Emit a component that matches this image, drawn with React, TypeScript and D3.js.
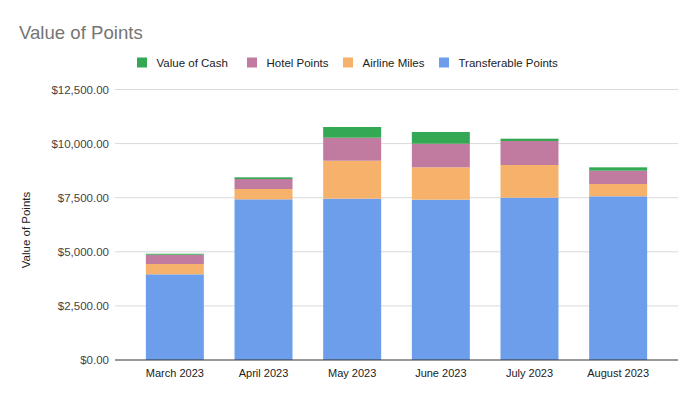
import React from "react";
import * as d3 from "d3";

const months = ["March 2023", "April 2023", "May 2023", "June 2023", "July 2023", "August 2023"];
const transferable = [3960, 7425, 7455, 7409, 7502, 7564];
const airline = [475, 477, 1755, 1494, 1509, 569];
const hotel = [430, 462, 1063, 1093, 1109, 616];
const cash = [45, 77, 494, 540, 107, 154];
const yTicks = [0, 2500, 5000, 7500, 10000, 12500];

const seriesNames = ["Transferable Points", "Airline Miles", "Hotel Points", "Value of Cash"];
const seriesColors = ["#6d9eeb", "#f6b26b", "#c27ba0", "#34a853"];
const legendOrder = [3, 2, 1, 0];
const legendX = [137, 247, 343, 439];

export default function App() {
  const W = 698, H = 400;
  const left = 115, right = 678, top = 89.5, bottom = 360;
  const font = "'Liberation Sans', Arial, sans-serif";

  const x = d3.scaleBand<string>().domain(months).range([left, right]).paddingInner(0.346).paddingOuter(0.348);
  const y = d3.scaleLinear().domain([0, 12500]).range([bottom, top]);

  const rows = months.map((m, i) => ({
    month: m,
    s0: transferable[i],
    s1: airline[i],
    s2: hotel[i],
    s3: cash[i],
  }));
  const stack = d3.stack<any>().keys(["s0", "s1", "s2", "s3"]);
  const stacked = stack(rows);
  const fmt = (v: number) => "$" + d3.format(",.2f")(v);

  return (
    <svg width={W} height={H} style={{ position: "absolute", left: 0, top: 0, background: "#fff" }} fontFamily={font}>
      <rect width={W} height={H} fill="#fff" />
      <text x={19} y={39} fontSize={18.6} fill="#757575">Value of Points</text>
      {legendOrder.map((si, k) => (
        <g key={si}>
          <rect x={legendX[k]} y={57.5} width={10} height={10} fill={seriesColors[si]} />
          <text x={legendX[k] + 19.5} y={66.5} fontSize={11.5} fill="#222">{seriesNames[si]}</text>
        </g>
      ))}
      {yTicks.map((t) => (
        <g key={t}>
          {t !== 0 && <line x1={left} x2={right} y1={y(t)} y2={y(t)} stroke="#d9d9d9" strokeWidth={1} />}
          <text x={109} y={y(t)} dy="0.35em" textAnchor="end" fontSize={11.5} fill="#444">{fmt(t)}</text>
        </g>
      ))}
      {stacked.map((layer, si) => (
        <g key={si} fill={seriesColors[si]}>
          {layer.map((d, i) => (
            <rect
              key={i}
              x={x(months[i])}
              width={x.bandwidth()}
              y={y(d[1])}
              height={Math.max(0, y(d[0]) - y(d[1]))}
            />
          ))}
        </g>
      ))}
      <line x1={left} x2={right} y1={bottom} y2={bottom} stroke="#333" strokeWidth={1} />
      {months.map((m) => (
        <text key={m} x={(x(m) as number) + x.bandwidth() / 2} y={377} textAnchor="middle" fontSize={11} fill="#222">{m}</text>
      ))}
      <text transform={`translate(30,230) rotate(-90)`} textAnchor="middle" fontSize={11.5} fill="#222">Value of Points</text>
    </svg>
  );
}
